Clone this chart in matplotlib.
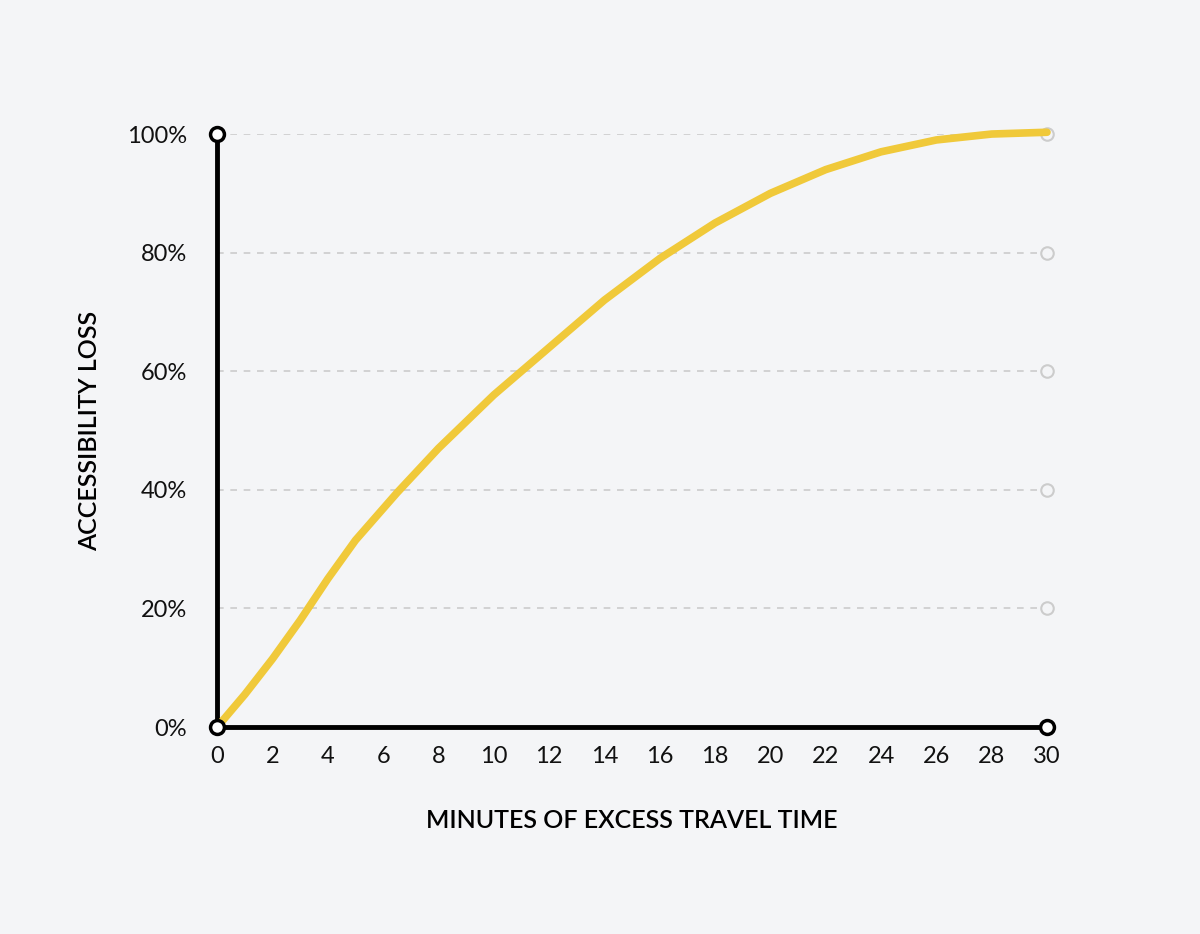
import matplotlib.pyplot as plt

minutes = [0, 1, 2, 3, 4, 5, 6.5, 8, 10, 12, 14, 16, 18, 20, 22, 24, 26, 28, 30]
loss = [0, 5.5, 11.5, 18, 25, 31.5, 39.5, 47, 56, 64, 72, 79, 85, 90, 94, 97, 99, 100, 100.3]
yticks = [0, 20, 40, 60, 80, 100]
xticks = list(range(0, 31, 2))

plt.rcParams['font.family'] = ['Lato', 'DejaVu Sans']
bg = '#f4f5f7'
fig = plt.figure(figsize=(12, 9.34), dpi=100, facecolor=bg)
ax = fig.add_axes([0.181, 0.2216, 0.6915, 0.6349], facecolor=bg)

for y in yticks[1:]:
    ax.axhline(y, color='#cccccc', lw=1.2, ls=(0, (4, 4)), zorder=1)
    ax.plot(30, y, 'o', ms=9, mfc=bg, mec='#cccccc', mew=1.5, clip_on=False, zorder=2)

ax.plot([0, 30], [0, 0], color='black', lw=3.5, clip_on=False, zorder=3)
ax.plot([0, 0], [0, 100], color='black', lw=3.5, clip_on=False, zorder=3)
ax.plot(minutes, loss, color='#f0c93a', lw=5.5, solid_capstyle='round',
        solid_joinstyle='round', clip_on=False, zorder=4)
for px, py in [(0, 0), (0, 100), (30, 0)]:
    ax.plot(px, py, 'o', ms=10, mfc='white', mec='black', mew=2.5, clip_on=False, zorder=5)

ax.set_xlim(0, 30)
ax.set_ylim(0, 100)
for s in ax.spines.values():
    s.set_visible(False)
ax.set_xticks(xticks)
ax.set_yticks(yticks)
ax.set_yticklabels([f'{v}%' for v in yticks])
ax.tick_params(length=0, labelsize=17, pad=14, labelcolor='#111111')
ax.tick_params(axis='y', pad=22)
ax.set_xlabel('MINUTES OF EXCESS TRAVEL TIME', fontsize=18, labelpad=30, fontweight='semibold')
ax.set_ylabel('ACCESSIBILITY LOSS', fontsize=18, labelpad=18, fontweight='semibold')
fig.savefig('out.png', facecolor=bg)
